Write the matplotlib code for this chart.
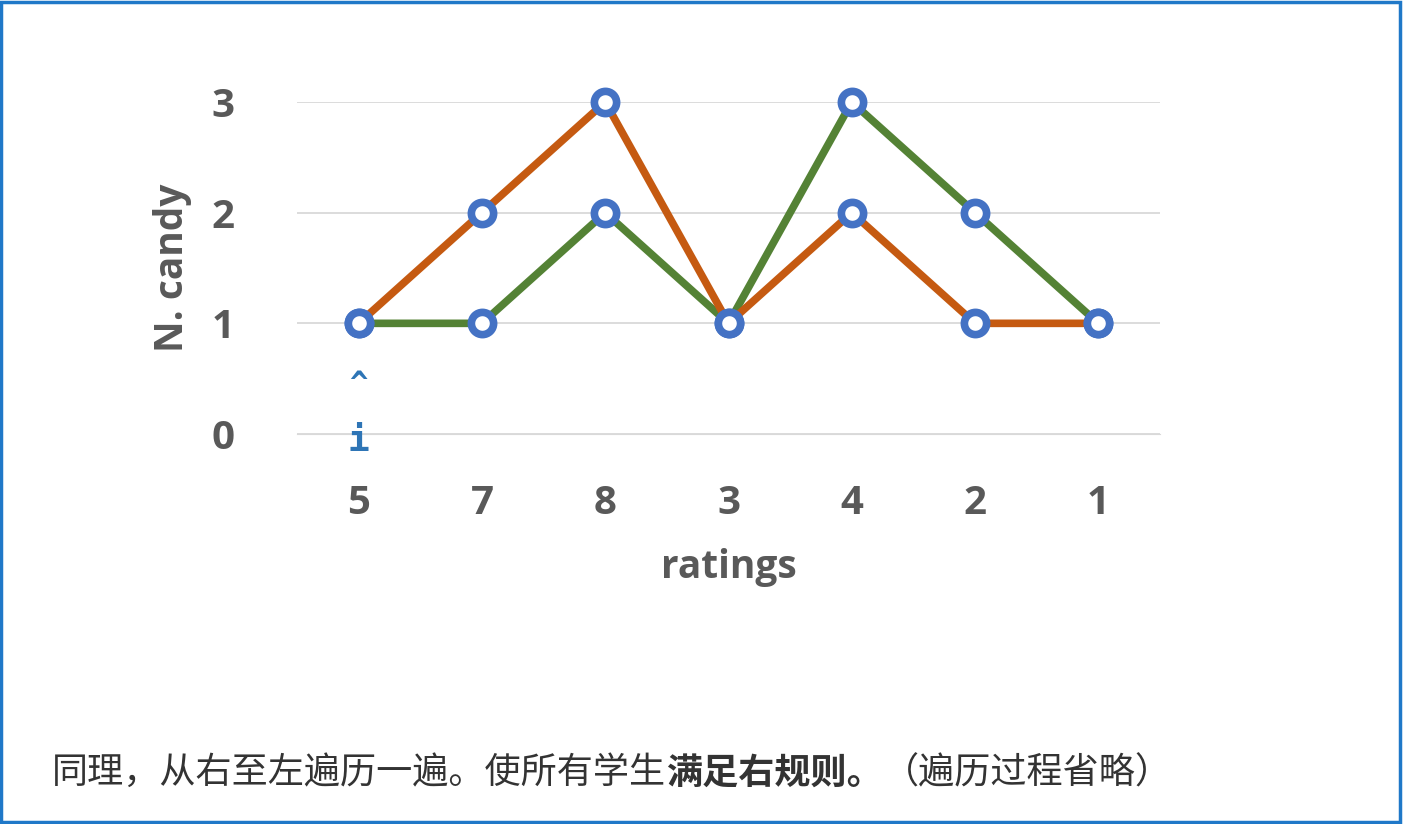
import matplotlib
matplotlib.use("Agg")
import matplotlib.pyplot as plt
from matplotlib.patches import Rectangle

categories = ["5", "7", "8", "3", "4", "2", "1"]
green = [1, 1, 2, 1, 3, 2, 1]
orange = [1, 2, 3, 1, 2, 1, 1]
yticks = [0, 1, 2, 3]

W, H = 1403, 824
fig = plt.figure(figsize=(W/100, H/100), dpi=100)
fig.patches.append(Rectangle((0.001, 0.002), 0.997, 0.995, transform=fig.transFigure,
                             fill=False, edgecolor="#1F78C8", linewidth=2.5))
ax = fig.add_axes([297/W, 1-434/H, (1160-297)/W, (434-102)/H])
x = list(range(len(categories)))
gray = "#595959"
ax.plot(x, green, color="#548235", lw=5.5, zorder=2, clip_on=False)
ax.plot(x, orange, color="#C55A11", lw=5.5, zorder=3, clip_on=False)
for s in (green, orange):
    ax.plot(x, s, ls="none", marker="o", ms=16, mfc="white", mec="#4472C4", mew=5.5,
            zorder=4, clip_on=False)
ax.set_xlim(-0.5, 6.5)
ax.set_ylim(0, 3)
ax.set_yticks(yticks)
ax.set_xticks(x)
ax.set_xticklabels(categories)
ax.grid(axis="y", color="#D9D9D9", lw=1.3)
ax.set_axisbelow(True)
for s in ax.spines.values():
    s.set_visible(False)
ax.spines["bottom"].set_visible(True)
ax.spines["bottom"].set_color("#D9D9D9")
ax.tick_params(length=0, labelsize=29, colors=gray, pad=0)
ax.tick_params(axis="x", pad=36)
ax.tick_params(axis="y", pad=45)
for t in ax.get_xticklabels() + ax.get_yticklabels():
    t.set_fontweight("bold"); t.set_family("Open Sans")
ax.set_xlabel("ratings", fontsize=28, fontweight="bold", color=gray, family="Open Sans", labelpad=18)
ax.set_ylabel("N. candy", fontsize=28, fontweight="bold", color=gray, family="Open Sans", labelpad=14)

ax.text(0, 0.45, "^", color="#2E75B6", fontsize=22, fontweight="bold", family="DejaVu Sans Mono",
        ha="center", va="center")
ax.text(0, -0.06, "i", color="#2E75B6", fontsize=26, fontweight="bold", family="DejaVu Sans Mono",
        ha="center", va="center")

fam = ["Noto Sans CJK SC", "DejaVu Sans"]
parts = [("同理，从右至左遍历一遍。使所有学生", "normal"), ("满足右规则。", "bold"), ("（遍历过程省略）", "normal")]
fig.canvas.draw()
r = fig.canvas.get_renderer()
xpos = 52
for txt, w in parts:
    t = fig.text(xpos/W, 1-773/H, txt, fontsize=26, fontweight=w, family=fam, color="#333333", va="center")
    xpos += t.get_window_extent(r).width
fig.savefig("out.png", dpi=100)
